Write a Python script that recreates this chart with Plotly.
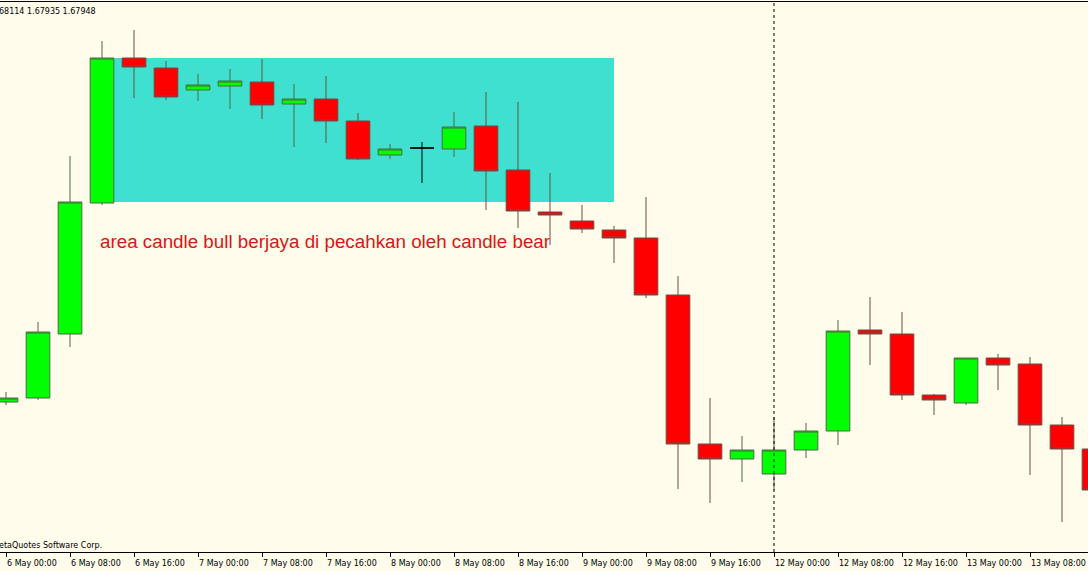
import plotly.graph_objects as go

# ---- data (GBPUSD H4) ----
times = ["6 May 00:00", "6 May 04:00", "6 May 08:00", "6 May 12:00", "6 May 16:00", "6 May 20:00",
         "7 May 00:00", "7 May 04:00", "7 May 08:00", "7 May 12:00", "7 May 16:00", "7 May 20:00",
         "8 May 00:00", "8 May 04:00", "8 May 08:00", "8 May 12:00", "8 May 16:00", "8 May 20:00",
         "9 May 00:00", "9 May 04:00", "9 May 08:00", "9 May 12:00", "9 May 16:00", "9 May 20:00",
         "12 May 00:00", "12 May 04:00", "12 May 08:00", "12 May 12:00", "12 May 16:00", "12 May 20:00",
         "13 May 00:00", "13 May 04:00", "13 May 08:00", "13 May 12:00", "13 May 16:00"]

opens = [1.68590, 1.68610, 1.68930, 1.69585, 1.70310, 1.70260, 1.70150, 1.70170, 1.70190, 1.70080,
         1.70105, 1.69995, 1.69825, 1.69860, 1.69855, 1.69970, 1.69750, 1.69540, 1.69495, 1.69450,
         1.69410, 1.69125, 1.68380, 1.68305, 1.68230, 1.68350, 1.68445, 1.68950, 1.68930, 1.68625,
         1.68585, 1.68810, 1.68780, 1.68475, 1.68355]
highs = [1.68640, 1.68990, 1.69820, 1.70395, 1.70450, 1.70295, 1.70230, 1.70255, 1.70305, 1.70180,
         1.70220, 1.70035, 1.69880, 1.69890, 1.70040, 1.70140, 1.70090, 1.69735, 1.69575, 1.69470,
         1.69615, 1.69220, 1.68610, 1.68420, 1.68515, 1.68485, 1.69000, 1.69115, 1.69040, 1.68630,
         1.68810, 1.68830, 1.68815, 1.68515, 1.68355]
lows = [1.68575, 1.68600, 1.68865, 1.69575, 1.70110, 1.70100, 1.70095, 1.70055, 1.70005, 1.69865,
        1.69885, 1.69800, 1.69805, 1.69685, 1.69815, 1.69550, 1.69460, 1.69375, 1.69435, 1.69285,
        1.69110, 1.68155, 1.68085, 1.68190, 1.68150, 1.68310, 1.68375, 1.68775, 1.68600, 1.68525,
        1.68575, 1.68650, 1.68225, 1.67990, 1.68100]
closes = [1.68610, 1.68940, 1.69590, 1.70310, 1.70265, 1.70115, 1.70175, 1.70195, 1.70075, 1.70105,
          1.69995, 1.69805, 1.69855, 1.69860, 1.69965, 1.69745, 1.69545, 1.69525, 1.69455, 1.69410,
          1.69125, 1.68380, 1.68305, 1.68350, 1.68350, 1.68445, 1.68945, 1.68930, 1.68625, 1.68600,
          1.68810, 1.68775, 1.68475, 1.68355, 1.68150]

tick_labels = times[::2]

# zone (rectangle) drawn from the big bull candle body
zone_start, zone_end = "6 May 12:00", "9 May 04:00"
zone_top, zone_bottom = 1.70310, 1.69590
separator_time = "12 May 00:00"
note_text = "area candle bull berjaya di pecahkan oleh candle bear"
info_text = "68114 1.67935 1.67948"
copyright_text = "etaQuotes Software Corp."

# ---- figure ----
doji = [i for i in range(len(times)) if opens[i] == closes[i]]
normal = [i for i in range(len(times)) if opens[i] != closes[i]]

fig = go.Figure()
fig.add_trace(go.Candlestick(
    x=[times[i] for i in normal],
    open=[opens[i] for i in normal], high=[highs[i] for i in normal],
    low=[lows[i] for i in normal], close=[closes[i] for i in normal],
    increasing=dict(fillcolor="#00FF00", line=dict(color="#4a6a40", width=1)),
    decreasing=dict(fillcolor="#FF0000", line=dict(color="#6e4c44", width=1)),
    whiskerwidth=0, hoverinfo="skip", showlegend=False,
))
fig.add_trace(go.Candlestick(
    x=[times[i] for i in doji],
    open=[opens[i] for i in doji], high=[highs[i] for i in doji],
    low=[lows[i] for i in doji], close=[closes[i] for i in doji],
    increasing=dict(fillcolor="#000000", line=dict(color="#000000", width=1)),
    decreasing=dict(fillcolor="#000000", line=dict(color="#000000", width=1)),
    whiskerwidth=0, hoverinfo="skip", showlegend=False,
))

i0 = times.index(zone_start)
i1 = times.index(zone_end)
fig.add_shape(type="rect", xref="x", yref="y", x0=i0, x1=i1, y0=zone_bottom, y1=zone_top,
              fillcolor="#40E0D0", line=dict(width=0), layer="below")
isep = times.index(separator_time)
fig.add_shape(type="line", xref="x", yref="paper", x0=isep, x1=isep, y0=0, y1=1,
              line=dict(color="#000000", width=1, dash="3px,3px"))

fig.add_annotation(x=i0, y=1.69395, xref="x", yref="y", text=note_text, showarrow=False,
                   xanchor="left", yanchor="middle", xshift=-4,
                   font=dict(family="Liberation Sans, Arial", size=18.8, color="#DD1515"))
fig.add_annotation(x=0, y=0.9836, xref="paper", yref="paper", text=info_text, showarrow=False,
                   xanchor="left", yanchor="middle", xshift=-3,
                   font=dict(family="DejaVu Sans", size=8, color="#000000"))
fig.add_annotation(x=0, y=0.0118, xref="paper", yref="paper", text=copyright_text, showarrow=False,
                   xanchor="left", yanchor="middle", xshift=-3,
                   font=dict(family="DejaVu Sans", size=8, color="#000000"))

bg = "#FFFCEB"
fig.update_layout(
    width=1088, height=571,
    margin=dict(l=0, r=0, t=2, b=19),
    paper_bgcolor=bg, plot_bgcolor=bg,
    boxgap=0.26, boxgroupgap=0,
    xaxis=dict(type="category", categoryorder="array", categoryarray=times,
               range=[-0.1875, 33.8125], rangeslider=dict(visible=False),
               tickmode="array", tickvals=tick_labels, ticktext=tick_labels,
               ticks="outside", ticklen=4, tickcolor="#000000", tickwidth=1,
               ticklabelposition="outside right", ticklabelstandoff=3,
               showline=True, linecolor="#000000", linewidth=1, mirror=True,
               showgrid=False, zeroline=False,
               tickfont=dict(family="DejaVu Sans", size=8, color="#000000")),
    yaxis=dict(range=[1.6784, 1.7059], showticklabels=False, showgrid=False,
               zeroline=False, ticks="", showline=False),
    hovermode=False,
)

fig.write_html("out.html", config={"displayModeBar": False},
               post_script="document.body.style.margin='0';document.body.style.overflow='hidden';")
